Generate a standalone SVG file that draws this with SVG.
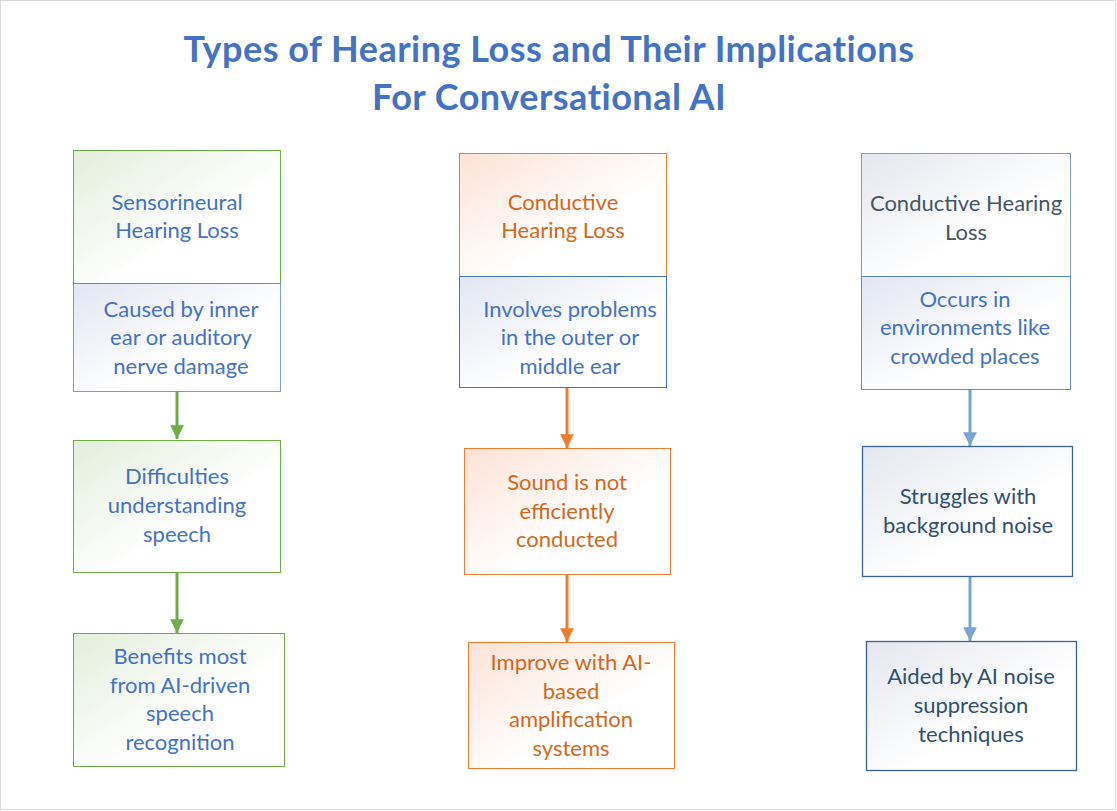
<svg xmlns="http://www.w3.org/2000/svg" width="1117" height="811" viewBox="0 0 1117 811">
<defs>
<linearGradient id="gG" x1="0" y1="0" x2="1" y2="1"><stop offset="0" stop-color="#E3EEDB"/><stop offset="0.6" stop-color="#FFFFFF"/></linearGradient>
<linearGradient id="gO" x1="0" y1="0" x2="1" y2="1"><stop offset="0" stop-color="#FCE2D6"/><stop offset="0.6" stop-color="#FFFFFF"/></linearGradient>
<linearGradient id="gB" x1="0" y1="0" x2="1" y2="1"><stop offset="0" stop-color="#E2E6F3"/><stop offset="0.6" stop-color="#FFFFFF"/></linearGradient>
<linearGradient id="gS" x1="0" y1="0" x2="1" y2="1"><stop offset="0" stop-color="#E4E7EE"/><stop offset="0.6" stop-color="#FFFFFF"/></linearGradient>
<marker id="aG" markerWidth="4.6" markerHeight="4.6" refX="4.4" refY="2.2" orient="auto" markerUnits="strokeWidth" viewBox="0 0 4.4 4.4"><path d="M0,0 L4.4,2.2 L0,4.4 Z" fill="#70AD47"/></marker>
<marker id="aO" markerWidth="4.6" markerHeight="4.6" refX="4.4" refY="2.2" orient="auto" markerUnits="strokeWidth" viewBox="0 0 4.4 4.4"><path d="M0,0 L4.4,2.2 L0,4.4 Z" fill="#ED7D31"/></marker>
<marker id="aB" markerWidth="4.6" markerHeight="4.6" refX="4.4" refY="2.2" orient="auto" markerUnits="strokeWidth" viewBox="0 0 4.4 4.4"><path d="M0,0 L4.4,2.2 L0,4.4 Z" fill="#7BA3D0"/></marker>
</defs>
<style>
text{font-family:Lato,"Open Sans","Liberation Sans",sans-serif;font-size:22px;text-anchor:middle}
.title{font-size:36px;font-weight:bold;fill:#4472C4;letter-spacing:0.5px}
.tb{fill:#4472C4}
.to{fill:#D2691E}
.ts{fill:#44546A}
.td{fill:#2F5070}
.bg{fill:url(#gG);stroke:#70AD47;stroke-width:1}
.bo{fill:url(#gO);stroke:#ED7D31;stroke-width:1}
.bb{fill:url(#gB);stroke:#4472C4;stroke-width:1}
.bs{fill:url(#gS);stroke:#7F9DC4;stroke-width:1}
.bd{fill:url(#gS);stroke:#3A628C;stroke-width:1.3}
.arr{stroke-width:3;fill:none}
</style>
<rect x="0.5" y="0.5" width="1115" height="809" fill="#FFFFFF" stroke="#D9D9D9" stroke-width="1"/>
<g id="title">
<text class="title" x="549" y="62">Types of Hearing Loss and Their Implications</text>
<text class="title" x="549" y="110">For Conversational AI</text>
</g>
<g id="connectors">
<line class="arr" x1="177" y1="391" x2="177" y2="439" stroke="#70AD47" marker-end="url(#aG)"/>
<line class="arr" x1="177" y1="572" x2="177" y2="633" stroke="#70AD47" marker-end="url(#aG)"/>
<line class="arr" x1="567" y1="387" x2="567" y2="448" stroke="#ED7D31" marker-end="url(#aO)"/>
<line class="arr" x1="567" y1="574" x2="567" y2="642" stroke="#ED7D31" marker-end="url(#aO)"/>
<line class="arr" x1="970" y1="389" x2="970" y2="446" stroke="#7BA3D0" marker-end="url(#aB)"/>
<line class="arr" x1="970" y1="576" x2="970" y2="641" stroke="#7BA3D0" marker-end="url(#aB)"/>
</g>
<g id="sensorineural">
<rect class="bg" x="73.5" y="150.5" width="207" height="133"/>
<text class="tb" x="177" y="210">Sensorineural</text>
<text class="tb" x="177" y="238">Hearing Loss</text>
</g>
<g id="sensorineural-cause">
<rect class="bb" x="73.5" y="283.5" width="207" height="108" stroke-opacity="0.7"/>
<text class="tb" x="181" y="317">Caused by inner</text>
<text class="tb" x="181" y="345">ear or auditory</text>
<text class="tb" x="181" y="374">nerve damage</text>
</g>
<g id="sensorineural-effect">
<rect class="bg" x="73.5" y="440.5" width="207" height="132"/>
<text class="tb" x="177" y="484">Difficulties</text>
<text class="tb" x="177" y="513">understanding</text>
<text class="tb" x="177" y="542">speech</text>
</g>
<g id="sensorineural-ai">
<rect class="bg" x="73.5" y="633.5" width="211" height="133"/>
<text class="tb" x="180" y="664">Benefits most</text>
<text class="tb" x="180" y="693">from AI-driven</text>
<text class="tb" x="180" y="721">speech</text>
<text class="tb" x="180" y="750">recognition</text>
</g>
<g id="conductive">
<rect class="bo" x="459.5" y="153.5" width="207" height="123"/>
<text class="to" x="563" y="210">Conductive</text>
<text class="to" x="563" y="238">Hearing Loss</text>
</g>
<g id="conductive-cause">
<rect class="bb" x="459.5" y="276.5" width="207" height="111"/>
<text class="tb" x="570" y="317">Involves problems</text>
<text class="tb" x="570" y="345">in the outer or</text>
<text class="tb" x="570" y="374">middle ear</text>
</g>
<g id="conductive-effect">
<rect class="bo" x="464.5" y="448.5" width="206" height="126"/>
<text class="to" x="567" y="490">Sound is not</text>
<text class="to" x="567" y="519">efficiently</text>
<text class="to" x="567" y="547">conducted</text>
</g>
<g id="conductive-ai">
<rect class="bo" x="468.5" y="642.5" width="206" height="126"/>
<text class="to" x="571" y="670">Improve with AI-</text>
<text class="to" x="571" y="699">based</text>
<text class="to" x="571" y="727">amplification</text>
<text class="to" x="571" y="756">systems</text>
</g>
<g id="conductive2">
<rect class="bs" x="861.5" y="153.5" width="209" height="123"/>
<text class="ts" x="966" y="211">Conductive Hearing</text>
<text class="ts" x="966" y="240">Loss</text>
</g>
<g id="conductive2-cause">
<rect class="bb" x="861.5" y="276.5" width="209" height="113" stroke-opacity="0.8"/>
<text class="tb" x="965" y="307">Occurs in</text>
<text class="tb" x="965" y="335">environments like</text>
<text class="tb" x="965" y="364">crowded places</text>
</g>
<g id="conductive2-effect">
<rect class="bd" x="862.5" y="446.5" width="210" height="130"/>
<text class="td" x="968" y="504">Struggles with</text>
<text class="td" x="968" y="533">background noise</text>
</g>
<g id="conductive2-ai">
<rect class="bd" x="866.5" y="641.5" width="210" height="129"/>
<text class="td" x="971" y="684">Aided by AI noise</text>
<text class="td" x="971" y="713">suppression</text>
<text class="td" x="971" y="742">techniques</text>
</g>
</svg>
